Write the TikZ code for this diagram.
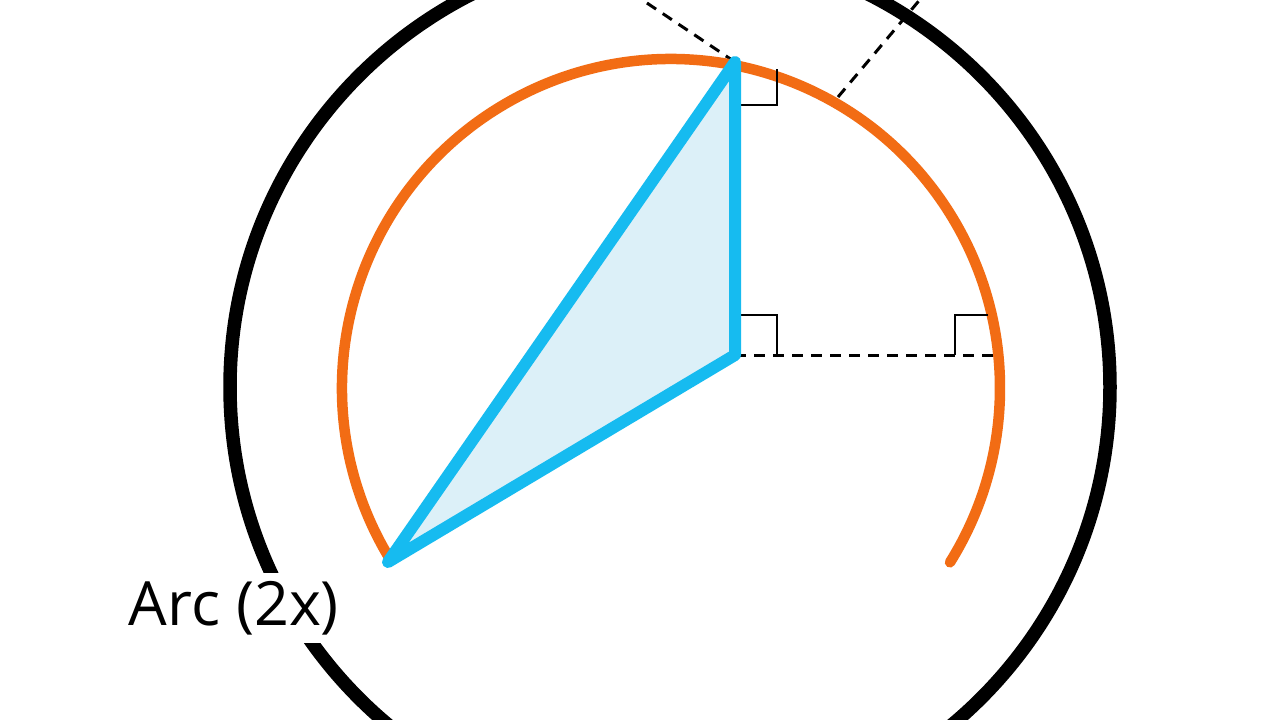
\documentclass[tikz,border=0pt]{standalone}
\usepackage{fontspec}
\setmainfont{Open Sans}
\definecolor{arcorange}{RGB}{242,108,20}
\definecolor{triblue}{RGB}{22,187,240}
\definecolor{trifill}{RGB}{220,240,248}
\begin{document}
\begin{tikzpicture}[x=1pt,y=-1pt,
  outer/.style={draw=black,line width=13.5pt},
  arcline/.style={draw=arcorange,line width=10.5pt,line cap=round},
  tri/.style={draw=triblue,fill=trifill,line width=12pt,line join=round,line cap=round},
  guide/.style={draw=black,line width=3pt,dash pattern=on 11pt off 8pt},
  rightmark/.style={draw=black,line width=2.2pt},
  lbl/.style={font=\fontsize{61}{63}\selectfont,fill=white,inner sep=8pt,anchor=base}]
\useasboundingbox (0,0) rectangle (1280,720);
\fill[white] (0,0) rectangle (1280,720);
\coordinate (O) at (670,387);
\coordinate (C) at (671,388);
\coordinate (A) at (388,562);
\coordinate (T) at (735,62);
\coordinate (M) at (735,355);
\coordinate (E) at (996,355);
\coordinate (P) at (838,97);
\coordinate (Q) at (928,-10);
\coordinate (R) at (632,-7);
\draw[outer] (O) circle[radius=440];
\draw[guide] (T) -- (R);
\draw[guide] (P) -- (Q);
\draw[guide] (M) -- (E);
\draw[arcline] (C) ++(149:329) arc[start angle=149,end angle=392,radius=329];
\draw[rightmark] (740,105) -- (777,105) -- (777,69);
\draw[rightmark] (740,315) -- (777,315) -- (777,355);
\draw[rightmark] (955,355) -- (955,315) -- (988,315);
\draw[tri] (A) -- (T) -- (M) -- cycle;
\node[lbl] (label) at (234,625) {Arc (2x)};
\end{tikzpicture}
\end{document}
